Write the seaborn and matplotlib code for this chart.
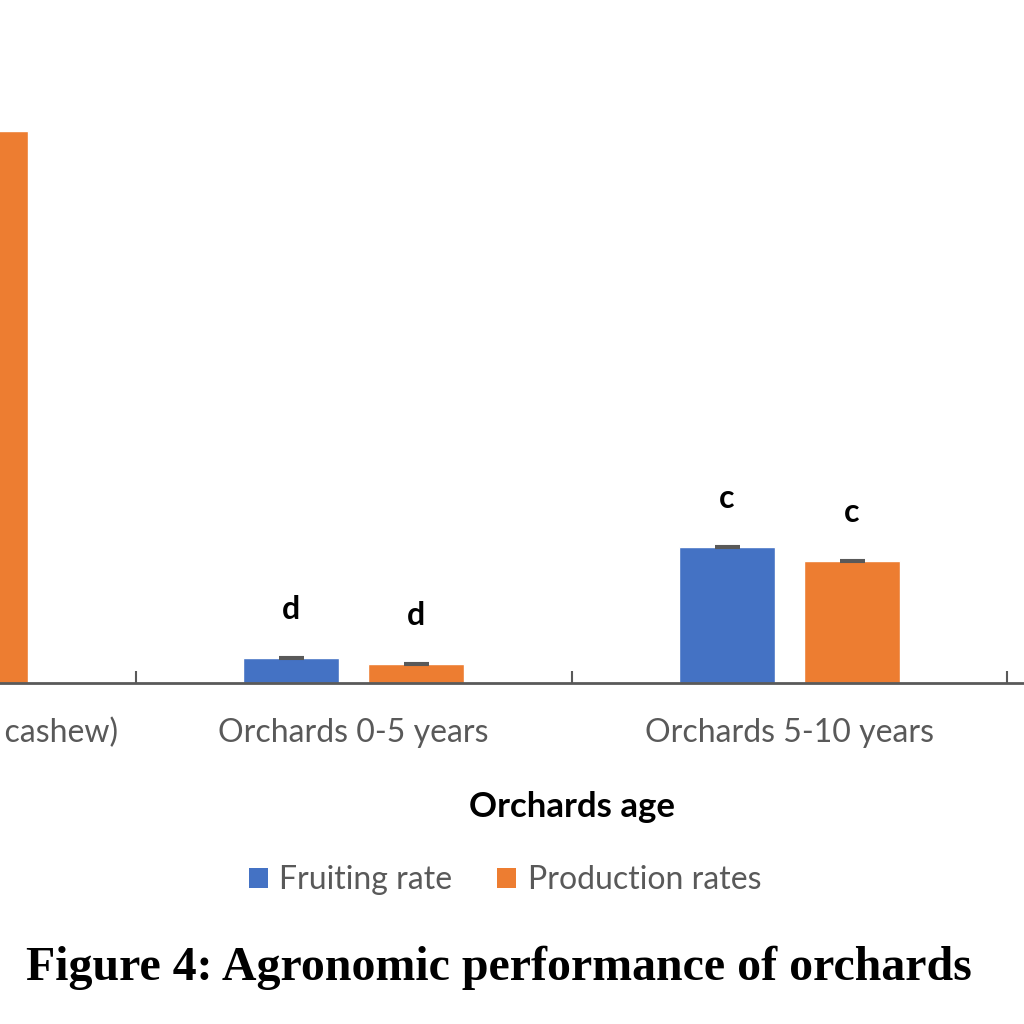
import numpy as np
import pandas as pd
import seaborn as sns
import matplotlib.pyplot as plt
from matplotlib.patches import Patch

# ---- data ----
categories = ["Local orchards (wild cashew)", "Orchards 0-5 years", "Orchards 5-10 years"]
series = ["Fruiting rate", "Production rates"]
fruiting_rate = [72.0, 3.6, 19.7]
production_rates = [80.0, 2.8, 17.7]
fruiting_err = [0.4, 0.15, 0.2]
production_err = [0.4, 0.15, 0.2]
fruiting_letters = ["b", "d", "c"]
production_letters = ["a", "d", "c"]
x_title = "Orchards age"
fig_title = "Figure 4: Agronomic performance of orchards"

BLUE = "#4472C4"
ORANGE = "#ED7D31"
GRAY = "#595959"

df = pd.DataFrame({
    "category": categories * 2,
    "series": [series[0]] * 3 + [series[1]] * 3,
    "value": fruiting_rate + production_rates,
})

sns.set_theme(style="white")
plt.rcParams["font.family"] = ["Lato", "DejaVu Sans"]

fig = plt.figure(figsize=(10.24, 10.24), dpi=100)
ax = fig.add_axes([0.0, 341 / 1024, 1.0, 683 / 1024])

sns.barplot(data=df, x="category", y="value", hue="series", order=categories,
            hue_order=series, palette=[BLUE, ORANGE], width=0.573, gap=0.233,
            errorbar=None, legend=False, ax=ax, saturation=1)

ax.set_xticks(range(len(categories)))
ax.set_xticklabels(categories, fontsize=23, color=GRAY)
ax.set_xticks([0.5, 1.5, 2.5], minor=True)
ax.set_xlim(0.189, 2.538)
ax.set_ylim(0, 99)
ax.set_yticks([])
ax.set_ylabel("")

# category labels whose tick centre lies outside the view are still drawn (cut by the edge)
xmin, xmax = ax.get_xlim()
for i, lab in enumerate(categories):
    if not (xmin <= i <= xmax):
        ax.annotate(lab, xy=(i, 0), xycoords=("data", "axes fraction"),
                    xytext=(0, -25), textcoords="offset points", ha="center", va="top",
                    fontsize=23, color=GRAY, annotation_clip=False)

errs = [fruiting_err, production_err]
letters = [fruiting_letters, production_letters]
bar_containers = list(ax.containers)
for ci, cont in enumerate(bar_containers):
    for bi, bar in enumerate(cont.patches):
        xc = bar.get_x() + bar.get_width() / 2
        h = bar.get_height()
        ax.errorbar(xc, h, yerr=errs[ci][bi], color=GRAY, capsize=9, capthick=1.5,
                    elinewidth=1.2, clip_on=True)
        ax.annotate(letters[ci][bi], (xc, h + errs[ci][bi]), xytext=(0, 34),
                    textcoords="offset points", ha="center", va="center",
                    fontsize=23, fontweight="bold", color="black",
                    annotation_clip=True)

ax.set_xlim(0.189, 2.538)
ax.set_ylim(0, 99)

for s in ["top", "right", "left"]:
    ax.spines[s].set_visible(False)
ax.spines["bottom"].set_color(GRAY)
ax.spines["bottom"].set_linewidth(2)

ax.tick_params(axis="x", which="both", bottom=True)
ax.tick_params(axis="x", which="major", length=0, pad=25)
ax.tick_params(axis="x", which="minor", length=9, width=1.5, direction="in", color=GRAY)

ax.set_xlabel(x_title, fontsize=25, fontweight="bold", color="black")
ax.xaxis.set_label_coords(572 / 1024, (683 - 807) / 683)
ax.xaxis.label.set_va("center")

handles = [Patch(facecolor=BLUE, edgecolor="none"), Patch(facecolor=ORANGE, edgecolor="none")]
leg = fig.legend(handles, series, loc="center", bbox_to_anchor=(505 / 1024, 1 - 880 / 1024),
                 ncol=2, frameon=False, fontsize=23, handlelength=0.6, handleheight=0.6,
                 handletextpad=0.35, columnspacing=1.4)
for t in leg.get_texts():
    t.set_color(GRAY)

fig.text(499 / 1024, 1 - 968 / 1024, fig_title,
         family=["Liberation Serif", "DejaVu Serif"], fontweight="bold", fontsize=34.5,
         ha="center", va="center", color="black")

fig.savefig("out.png", dpi=100, facecolor="white")
